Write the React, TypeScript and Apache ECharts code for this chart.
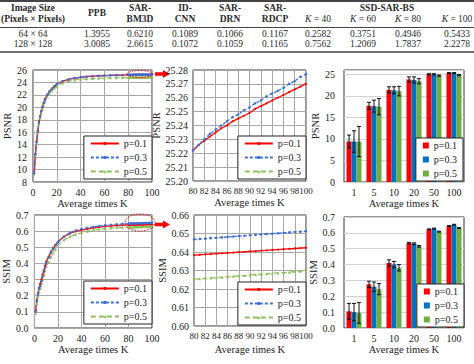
import React, { useEffect, useRef } from 'react';
import * as echarts from 'echarts';

// ---------- Table data ----------
const tableMethods = ['PPB', 'SAR-\nBM3D', 'ID-\nCNN', 'SAR-\nDRN', 'SAR-\nRDCP'];
const tableKs = ['40', '60', '80', '100'];
const imageSizes = ['64 × 64', '128 × 128'];
const times64 = ['1.3955', '0.6210', '0.1089', '0.1066', '0.1167', '0.2582', '0.3751', '0.4946', '0.5433'];
const times128 = ['3.0085', '2.6615', '0.1072', '0.1059', '0.1165', '0.7562', '1.2069', '1.7837', '2.2278'];

// ---------- Curve data ----------
const seriesNames = ['p=0.1', 'p=0.3', 'p=0.5'];
const kEarly = [1, 2, 3, 4, 5, 6, 7, 8, 9, 10, 12, 14, 16, 18, 20, 25, 30, 35, 40, 45, 50, 55, 60, 65, 70, 75];
const kLate = [80, 81, 82, 83, 84, 85, 86, 87, 88, 89, 90, 91, 92, 93, 94, 95, 96, 97, 98, 99, 100];

const psnrEarly01 = [9.4, 12.5, 14.5, 16.2, 17.6, 18.6, 19.4, 20.1, 20.7, 21.3, 22.0, 22.6, 23.0, 23.4, 23.75, 24.2, 24.5, 24.7, 24.83, 24.92, 25.0, 25.05, 25.09, 25.13, 25.16, 25.19];
const psnrEarly03 = [9.4, 12.4, 14.4, 16.1, 17.5, 18.5, 19.4, 20.1, 20.7, 21.2, 22.0, 22.6, 23.0, 23.4, 23.7, 24.2, 24.5, 24.7, 24.84, 24.93, 25.0, 25.06, 25.1, 25.14, 25.17, 25.2];
const psnrEarly05 = [9.3, 12.2, 14.2, 15.9, 17.3, 18.3, 19.1, 19.8, 20.4, 20.9, 21.7, 22.3, 22.7, 23.1, 23.4, 23.9, 24.2, 24.4, 24.5, 24.58, 24.64, 24.68, 24.71, 24.74, 24.76, 24.78];
const psnrLate01 = [25.222, 25.226, 25.229, 25.232, 25.235, 25.238, 25.240, 25.243, 25.245, 25.247, 25.249, 25.252, 25.254, 25.256, 25.258, 25.260, 25.262, 25.264, 25.266, 25.268, 25.270];
const psnrLate03 = [25.222, 25.226, 25.230, 25.234, 25.237, 25.240, 25.243, 25.246, 25.248, 25.251, 25.253, 25.256, 25.258, 25.261, 25.263, 25.265, 25.267, 25.270, 25.272, 25.275, 25.277];
const psnrLate05 = [24.79, 24.79, 24.80, 24.80, 24.81, 24.81, 24.82, 24.82, 24.82, 24.83, 24.83, 24.83, 24.84, 24.84, 24.84, 24.85, 24.85, 24.85, 24.86, 24.86, 24.86];

const ssimEarly01 = [0.105, 0.17, 0.215, 0.25, 0.275, 0.30, 0.33, 0.355, 0.385, 0.41, 0.44, 0.47, 0.495, 0.515, 0.535, 0.565, 0.585, 0.598, 0.607, 0.614, 0.62, 0.625, 0.629, 0.632, 0.635, 0.637];
const ssimEarly03 = [0.10, 0.165, 0.21, 0.245, 0.26, 0.29, 0.32, 0.35, 0.375, 0.40, 0.435, 0.465, 0.49, 0.512, 0.532, 0.565, 0.588, 0.603, 0.613, 0.62, 0.627, 0.632, 0.636, 0.639, 0.642, 0.645];
const ssimEarly05 = [0.09, 0.15, 0.195, 0.225, 0.245, 0.275, 0.30, 0.33, 0.355, 0.38, 0.41, 0.44, 0.465, 0.49, 0.515, 0.545, 0.565, 0.58, 0.59, 0.60, 0.607, 0.612, 0.616, 0.619, 0.622, 0.624];
const ssimLate01 = [0.6383, 0.6385, 0.6387, 0.6389, 0.6391, 0.6393, 0.6395, 0.6397, 0.6399, 0.6401, 0.6403, 0.6405, 0.6407, 0.6409, 0.6411, 0.6413, 0.6415, 0.6417, 0.6419, 0.6421, 0.6423];
const ssimLate03 = [0.6468, 0.6470, 0.6472, 0.6475, 0.6477, 0.6479, 0.6481, 0.6484, 0.6486, 0.6488, 0.6490, 0.6493, 0.6495, 0.6497, 0.6499, 0.6501, 0.6504, 0.6506, 0.6508, 0.6510, 0.6513];
const ssimLate05 = [0.6253, 0.6255, 0.6258, 0.6260, 0.6262, 0.6264, 0.6267, 0.6269, 0.6271, 0.6273, 0.6276, 0.6278, 0.6280, 0.6282, 0.6285, 0.6287, 0.6289, 0.6291, 0.6294, 0.6296, 0.6298];

// ---------- Bar data ----------
const barCats = ['1', '5', '10', '20', '50', '100'];
const psnrBar01 = [9.4, 17.7, 21.4, 23.8, 25.0, 25.3];
const psnrBar03 = [9.4, 17.6, 21.3, 23.7, 25.0, 25.3];
const psnrBar05 = [9.4, 17.5, 21.1, 23.4, 24.7, 24.8];
const psnrErr01 = [1.5, 0.8, 0.7, 0.6, 0.15, 0.1];
const psnrErr03 = [2.5, 1.4, 0.8, 0.7, 0.15, 0.1];
const psnrErr05 = [3.5, 1.9, 1.1, 0.6, 0.15, 0.15];
const ssimBar01 = [0.105, 0.275, 0.41, 0.535, 0.622, 0.643];
const ssimBar03 = [0.10, 0.26, 0.40, 0.532, 0.627, 0.651];
const ssimBar05 = [0.095, 0.245, 0.38, 0.515, 0.608, 0.630];
const ssimErr01 = [0.05, 0.02, 0.02, 0.005, 0.003, 0.003];
const ssimErr03 = [0.055, 0.03, 0.02, 0.005, 0.003, 0.003];
const ssimErr05 = [0.065, 0.035, 0.02, 0.005, 0.003, 0.003];

const SERIF = "'Liberation Serif', 'Times New Roman', serif";
const TXT = '#222';

const lineStyles: any = {
  'p=0.1': { color: '#ff0000', type: 'solid', width: 1.3, symbol: 'circle', size: 2 },
  'p=0.3': { color: '#3f6fd6', type: [3, 2], width: 1.3, symbol: 'circle', size: 2.5 },
  'p=0.5': { color: '#8dc05a', type: [5, 3], width: 1.2, symbol: 'triangle', size: 3 },
};
const barColors = ['#ff0000', '#0070c0', '#70ad47'];

function pairs(ks: number[], vs: number[]) {
  return ks.map((k, i) => [k, vs[i]]);
}

function lineSeries(name: string, gi: number, data: number[][], z: number) {
  const s = lineStyles[name];
  return {
    type: 'line', name, xAxisIndex: gi, yAxisIndex: gi, data,
    showSymbol: true, symbol: s.symbol, symbolSize: s.size, z,
    lineStyle: { color: s.color, width: s.width, type: s.type },
    itemStyle: { color: s.color },
  };
}

function errSeries(gi: number, vals: number[], errs: number[], k: number) {
  return {
    type: 'custom', xAxisIndex: gi, yAxisIndex: gi, silent: true, z: 3,
    data: vals.map((v, i) => [i, v, errs[i]]),
    encode: { x: 0, y: 1 },
    renderItem: (params: any, api: any) => {
      const ci = api.value(0), v = api.value(1), e = api.value(2);
      const c = api.coord([ci, v]);
      const band = api.size([1, 0])[0];
      const bw = (band * 0.75) / 3;
      const x = c[0] + (k - 1) * bw;
      const yt = api.coord([ci, v + e])[1];
      const yb = api.coord([ci, v - e])[1];
      const cap = 2;
      const st = { stroke: '#111', lineWidth: 1 };
      return {
        type: 'group',
        children: [
          { type: 'line', shape: { x1: x, y1: yt, x2: x, y2: yb }, style: st },
          { type: 'line', shape: { x1: x - cap, y1: yt, x2: x + cap, y2: yt }, style: st },
          { type: 'line', shape: { x1: x - cap, y1: yb, x2: x + cap, y2: yb }, style: st },
        ],
      };
    },
  };
}

function barSeries(gi: number, idx: number, vals: number[]) {
  return {
    type: 'bar', name: 'bar ' + seriesNames[idx], xAxisIndex: gi, yAxisIndex: gi,
    data: vals, barGap: '0%', barCategoryGap: '25%', z: 2,
    itemStyle: { color: barColors[idx] },
  };
}

const axisLabelBase = { fontFamily: SERIF, fontSize: 10, color: TXT };
const nameStyle = { fontFamily: SERIF, fontSize: 10.5, color: TXT };

function xValueAxis(gi: number, min: number, max: number, interval: number, gap: number, fs = 10) {
  return {
    type: 'value', gridIndex: gi, min, max, interval,
    axisLine: { show: false }, axisTick: { show: false },
    axisLabel: { ...axisLabelBase, fontSize: fs, margin: 5, hideOverlap: false, showMinLabel: true, showMaxLabel: true },
    splitLine: { show: true, lineStyle: { color: '#a8a8a8', width: 1 } },
    name: 'Average times K', nameLocation: 'middle', nameGap: gap, nameTextStyle: nameStyle,
  };
}
function xCatAxis(gi: number, gap: number) {
  return {
    type: 'category', gridIndex: gi, data: barCats,
    axisLine: { show: false }, axisTick: { show: false },
    axisLabel: { ...axisLabelBase, margin: 5, interval: 0, hideOverlap: false },
    splitLine: { show: false },
    name: 'Average times K', nameLocation: 'middle', nameGap: gap, nameTextStyle: nameStyle,
  };
}
function yAxis(gi: number, min: number, max: number, interval: number, dec: number, name: string, gap: number, margin: number, hideMax = false, gridColor = '#a8a8a8') {
  return {
    type: 'value', gridIndex: gi, min, max, interval,
    axisLine: { show: false }, axisTick: { show: false },
    axisLabel: {
      ...axisLabelBase, margin, hideOverlap: false, showMinLabel: true, showMaxLabel: true,
      formatter: (v: number) => (hideMax && Math.abs(v - max) < 1e-9 ? '' : v.toFixed(dec)),
    },
    splitLine: { show: true, lineStyle: { color: gridColor, width: 1 } },
    name, nameLocation: 'middle', nameGap: gap, nameTextStyle: nameStyle,
  };
}

function lineLegend(right: number, top: number) {
  return {
    show: true, right, top, orient: 'vertical', data: seriesNames, selectedMode: false,
    backgroundColor: '#fff', borderColor: '#222', borderWidth: 1, borderRadius: 0,
    padding: [2, 5, 2, 6], itemGap: 3, itemWidth: 28, itemHeight: 4,
    textStyle: { fontFamily: SERIF, fontSize: 10, color: TXT, lineHeight: 11 },
  };
}
function barLegend(right: number, top: number) {
  return {
    show: true, right, top, orient: 'vertical', selectedMode: false,
    data: seriesNames.map((n) => ({ name: 'bar ' + n, icon: 'rect' })),
    formatter: (n: string) => n.replace('bar ', ''),
    backgroundColor: '#fff', borderColor: '#222', borderWidth: 1, borderRadius: 0,
    padding: [2, 6, 2, 7], itemGap: 3, itemWidth: 6, itemHeight: 6,
    textStyle: { fontFamily: SERIF, fontSize: 10, color: TXT, lineHeight: 11 },
  };
}

function tableGraphics() {
  const els: any[] = [];
  const colX = [33, 97, 140, 185, 230, 275, 318, 363, 408, 457];
  const t = (x: number, y: number, text: string, extra: any = {}) => ({
    type: 'text', x, y, silent: true,
    style: {
      text, fill: '#2a2a2a', fontFamily: SERIF, fontSize: 9.5, lineHeight: 11,
      align: 'center', verticalAlign: 'middle', textAlign: 'center', textVerticalAlign: 'middle',
      ...extra,
    },
  });
  const ln = (y: number, w: number) => ({
    type: 'line', silent: true, shape: { x1: 0, y1: y, x2: 474, y2: y }, style: { stroke: '#444', lineWidth: w },
  });
  els.push(ln(1, 2), ln(27.5, 1), ln(52, 1.5));
  els.push(t(colX[0], 13, 'Image Size\n(Pixels × Pixels)', { fontWeight: 'bold' }));
  tableMethods.forEach((m, i) => {
    els.push(t(colX[i + 1], 13, m, { fontWeight: 'bold' }));
  });
  els.push(t(387, 7.5, 'SSD-SAR-BS', { fontWeight: 'bold' }));
  tableKs.forEach((k, i) => {
    els.push(t(colX[6 + i], 18.5, '{i|K} = ' + k, {
      rich: { i: { fontStyle: 'italic', fontFamily: SERIF, fontSize: 9.5, fill: '#2a2a2a' } },
    }));
  });
  const rows = [times64, times128];
  imageSizes.forEach((s, r) => {
    const y = r === 0 ? 34 : 43.5;
    els.push(t(colX[0], y, s));
    rows[r].forEach((v, i) => els.push(t(colX[i + 1], y, v)));
  });
  return els;
}

function annotationGraphics() {
  const red = '#ff0000';
  const arrow = (cy: number) => ({
    type: 'polygon', silent: true,
    shape: { points: [[155, cy - 1.8], [163, cy - 1.8], [163, cy - 4], [170, cy], [163, cy + 4], [163, cy + 1.8], [155, cy + 1.8]] },
    style: { fill: red },
  });
  return [
    { type: 'ellipse', silent: true, shape: { cx: 140, cy: 74, rx: 13, ry: 3.5 }, style: { fill: 'none', stroke: red, lineWidth: 1, lineDash: [1.5, 1.5] }, z: 10 },
    { type: 'ellipse', silent: true, shape: { cx: 140, cy: 222.5, rx: 15, ry: 8.5 }, style: { fill: 'none', stroke: red, lineWidth: 1, lineDash: [1.5, 1.5] }, z: 10 },
    arrow(74),
    arrow(224.5),
  ];
}

function buildOption() {
  const gridBase = { show: true, borderColor: '#333', borderWidth: 1, backgroundColor: 'transparent', containLabel: false };
  return {
    animation: false,
    backgroundColor: '#fff',
    textStyle: { fontFamily: SERIF },
    grid: [
      { ...gridBase, left: 33, top: 70, width: 119, height: 112 },
      { ...gridBase, left: 193, top: 70, width: 113, height: 111 },
      { ...gridBase, left: 344, top: 70, width: 120, height: 112 },
      { ...gridBase, left: 33, top: 215, width: 119, height: 113 },
      { ...gridBase, left: 194, top: 215, width: 112, height: 111 },
      { ...gridBase, left: 344, top: 217, width: 120, height: 111 },
    ],
    xAxis: [
      xValueAxis(0, 0, 100, 20, 15),
      xValueAxis(1, 80, 100, 2, 16, 9),
      xCatAxis(2, 15),
      xValueAxis(3, 0, 100, 20, 16),
      xValueAxis(4, 80, 100, 2, 18, 9),
      xCatAxis(5, 16),
    ],
    yAxis: [
      yAxis(0, 8, 26, 2, 0, 'PSNR', 15, 6),
      yAxis(1, 25.2, 25.28, 0.01, 2, 'PSNR', 25, 5),
      yAxis(2, 0, 26, 5, 0, 'PSNR', 16, 9, true, '#d0d0d0'),
      yAxis(3, 0, 0.7, 0.1, 1, 'SSIM', 15, 6),
      yAxis(4, 0.6, 0.66, 0.01, 2, 'SSIM', 26, 5),
      yAxis(5, 0, 0.7, 0.1, 1, 'SSIM', 16, 9, false, '#d0d0d0'),
    ],
    legend: [
      lineLegend(474 - 152, 136),
      lineLegend(474 - 306, 136),
      barLegend(474 - 463, 138),
      lineLegend(474 - 152, 281),
      lineLegend(474 - 306, 282),
      barLegend(474 - 464, 284),
    ],
    series: [
      lineSeries('p=0.5', 0, pairs(kEarly, psnrEarly05).concat(pairs(kLate, psnrLate05)), 2),
      lineSeries('p=0.1', 0, pairs(kEarly, psnrEarly01).concat(pairs(kLate, psnrLate01)), 2),
      lineSeries('p=0.3', 0, pairs(kEarly, psnrEarly03).concat(pairs(kLate, psnrLate03)), 2),
      lineSeries('p=0.5', 1, pairs(kLate, psnrLate05), 2),
      lineSeries('p=0.1', 1, pairs(kLate, psnrLate01), 2),
      lineSeries('p=0.3', 1, pairs(kLate, psnrLate03), 2),
      barSeries(2, 0, psnrBar01),
      barSeries(2, 1, psnrBar03),
      barSeries(2, 2, psnrBar05),
      errSeries(2, psnrBar01, psnrErr01, 0),
      errSeries(2, psnrBar03, psnrErr03, 1),
      errSeries(2, psnrBar05, psnrErr05, 2),
      lineSeries('p=0.5', 3, pairs(kEarly, ssimEarly05).concat(pairs(kLate, ssimLate05)), 2),
      lineSeries('p=0.1', 3, pairs(kEarly, ssimEarly01).concat(pairs(kLate, ssimLate01)), 2),
      lineSeries('p=0.3', 3, pairs(kEarly, ssimEarly03).concat(pairs(kLate, ssimLate03)), 2),
      lineSeries('p=0.5', 4, pairs(kLate, ssimLate05), 2),
      lineSeries('p=0.1', 4, pairs(kLate, ssimLate01), 2),
      lineSeries('p=0.3', 4, pairs(kLate, ssimLate03), 2),
      barSeries(5, 0, ssimBar01),
      barSeries(5, 1, ssimBar03),
      barSeries(5, 2, ssimBar05),
      errSeries(5, ssimBar01, ssimErr01, 0),
      errSeries(5, ssimBar03, ssimErr03, 1),
      errSeries(5, ssimBar05, ssimErr05, 2),
    ],
    graphic: [...tableGraphics(), ...annotationGraphics()],
  };
}

export default function App() {
  const ref = useRef<HTMLDivElement>(null);
  useEffect(() => {
    if (!ref.current) return;
    const chart = echarts.init(ref.current, null, { renderer: 'svg' });
    chart.setOption(buildOption() as any);
    return () => chart.dispose();
  }, []);
  return (
    <div
      ref={ref}
      style={{ position: 'absolute', left: 0, top: 0, width: 474, height: 364, background: '#fff' }}
    />
  );
}
